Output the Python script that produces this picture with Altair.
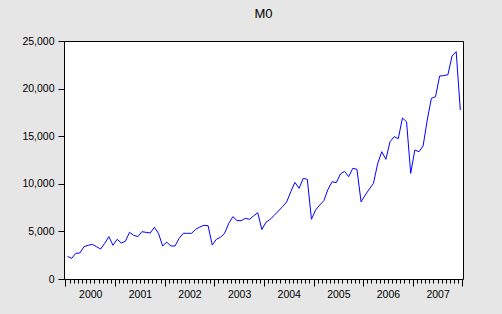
import altair as alt
import pandas as pd

# Monthly M0, Jan 2000 - Dec 2007
m0 = [2380, 2170, 2700, 2730, 3400, 3540, 3640, 3400, 3150, 3750, 4450, 3540,
      4170, 3780, 3960, 4900, 4590, 4450, 4970, 4900, 4830, 5430, 4800, 3470,
      3870, 3470, 3470, 4270, 4800, 4800, 4800, 5220, 5460, 5640, 5600, 3570,
      4170, 4380, 4800, 5850, 6550, 6130, 6130, 6370, 6270, 6620, 6970, 5200,
      5950, 6270, 6690, 7140, 7600, 8090, 9170, 10150, 9520, 10570, 10470, 6270,
      7250, 7770, 8230, 9420, 10220, 10120, 11030, 11310, 10750, 11630, 11520, 8100,
      8820, 9450, 10050, 12100, 13370, 12570, 14420, 14950, 14740, 16910, 16520, 11100,
      13550, 13370, 13970, 16700, 18980, 19150, 21320, 21360, 21460, 23420, 23880, 17750]
start_year = 2000
y_ticks = [0, 5000, 10000, 15000, 20000, 25000]

df = pd.DataFrame({"t": [i + 0.5 for i in range(len(m0))], "m0": m0})
month_ticks = list(range(0, len(m0) + 1))

FONT = "Liberation Sans"

chart = alt.Chart(df).mark_line(color="#0000ff", strokeWidth=1).encode(
    x=alt.X("t:Q",
            scale=alt.Scale(domain=[-0.35, 96.15], nice=False, zero=False),
            axis=alt.Axis(values=month_ticks, domain=False, grid=False,
                          tickColor="black",
                          tickSize={"condition": {"test": "datum.value % 12 == 0", "value": 7}, "value": 4},
                          labelExpr=f"datum.value % 12 == 6 ? toString({start_year} + floor(datum.value/12)) : ''",
                          labelOverlap=False, labelFlush=False,
                          labelFont=FONT, labelFontSize=10.5, labelColor="black",
                          labelPadding=6, title=None)),
    y=alt.Y("m0:Q",
            scale=alt.Scale(domain=[0, 25000], nice=False),
            axis=alt.Axis(values=y_ticks, format=",.0f", domain=False, grid=False,
                          tickColor="black", tickSize=6, labelPadding=4,
                          labelFont=FONT, labelFontSize=10.5, labelColor="black",
                          title=None)),
).properties(
    width=399, height=238,
    title=alt.TitleParams("M0", font=FONT, fontSize=13, fontWeight="normal",
                          color="black", anchor="middle", offset=15),
    autosize=alt.AutoSizeParams(type="none"),
    padding={"left": 64, "top": 41, "right": 39, "bottom": 35},
    background="#e6e6e6",
).configure_view(
    stroke="black", strokeWidth=1, fill="white"
)

chart.save("out.html", embed_options={"renderer": "svg", "actions": False})
